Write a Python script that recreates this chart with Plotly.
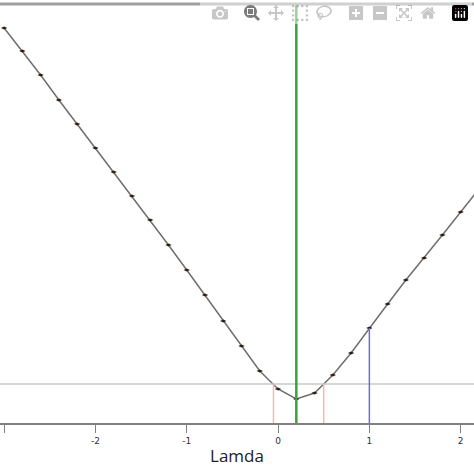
import plotly.graph_objects as go

# lambda grid and curve values (arbitrary units)
lamda = [-3.0, -2.8, -2.6, -2.4, -2.2, -2.0, -1.8, -1.6, -1.4, -1.2, -1.0, -0.8, -0.6,
         -0.4, -0.2, 0.0, 0.2, 0.4, 0.6, 0.8, 1.0, 1.2, 1.4, 1.6, 1.8, 2.0]
curve = [395, 372, 348, 323, 299, 275, 251, 227, 203, 178, 153, 128, 102,
         77, 52, 34, 24, 30, 48, 70, 95, 119, 143, 165, 188, 211]
line_tail_x = [2.2]
line_tail_y = [234]
tick_vals = [-3, -2, -1, 0, 1, 2]
tick_text = ['-3', '-2', '-1', '0', '1', '2']

lamda_min = 0.2
ci_low, ci_high = -0.05, 0.5
ci_level = 39
blue_x = 1.0
blue_y = 95

fig = go.Figure()
fig.add_trace(go.Scatter(x=lamda + line_tail_x, y=curve + line_tail_y, mode='lines',
                         line=dict(color='#6e6e6e', width=1.5), hoverinfo='skip'))
fig.add_trace(go.Scatter(x=lamda, y=curve, mode='markers',
                         marker=dict(color='#2b1d12', size=4.5, symbol='diamond-wide')))
# horizontal CI level line
fig.add_shape(type='line', xref='paper', x0=0, x1=1, y0=ci_level, y1=ci_level,
              line=dict(color='#c8c8c8', width=1.5))
for xv in (ci_low, ci_high):
    fig.add_shape(type='line', x0=xv, x1=xv, y0=0, y1=ci_level,
                  line=dict(color='#f4b6b6', width=1.5))
fig.add_shape(type='line', x0=blue_x, x1=blue_x, y0=0, y1=blue_y,
              line=dict(color='#6a6af0', width=1.5))
fig.add_shape(type='line', x0=lamda_min, x1=lamda_min, yref='paper', y0=0, y1=1,
              line=dict(color='#3aa23a', width=2.5))
# top border
fig.add_shape(type='line', xref='paper', yref='paper', x0=0, x1=1, y0=1, y1=1,
              line=dict(color='#a0a0a0', width=3))

fig.update_layout(
    width=474, height=474, showlegend=False,
    margin=dict(l=0, r=0, t=4, b=51),
    plot_bgcolor='white', paper_bgcolor='white',
    xaxis=dict(range=[-3.045, 2.146], tickvals=tick_vals, ticktext=tick_text,
               showgrid=False, zeroline=False, showline=True, linecolor='#808080',
               linewidth=1.5, ticks='outside', ticklen=8, tickcolor='#808080',
               tickfont=dict(family='DejaVu Sans', size=9, color='#333333'),
               title=dict(text='Lamda', font=dict(family='Open Sans', size=17, color='#222222'),
                          standoff=6)),
    yaxis=dict(range=[0, 419], visible=False),
)
fig.write_html('out.html', post_script="document.body.style.margin='0';")
